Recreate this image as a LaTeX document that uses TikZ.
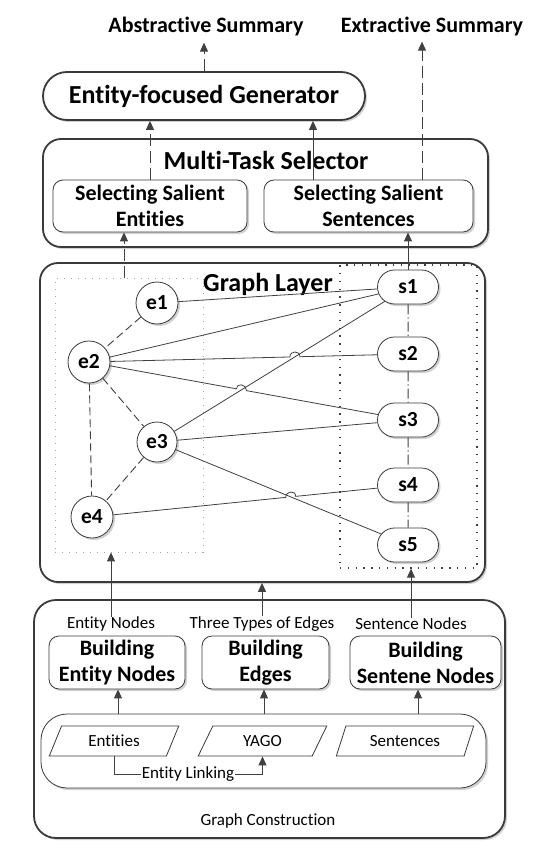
\documentclass[tikz,border=0pt]{standalone}
\usepackage{fontspec}
\setmainfont{Carlito}[Ligatures={NoCommon}]
\usetikzlibrary{arrows.meta,shapes.geometric,shapes.misc,calc,intersections,shadows}
\definecolor{lc}{HTML}{3A3A3A}
\definecolor{ec}{HTML}{404040}
\tikzset{
  shd/.style={drop shadow={shadow xshift=2pt,shadow yshift=-2pt,opacity=0.18,fill=black}},
  bigbox/.style={draw=lc, line width=1.8pt, rounded corners=18pt, fill=white, shd},
  inbox/.style={draw=lc, line width=0.8pt, rounded corners=10pt, fill=white, shd, align=center,
     font=\fontsize{22}{26}\selectfont\bfseries, inner sep=0pt},
  ttl/.style={font=\fontsize{26}{30}\selectfont\bfseries, inner sep=0pt},
  toptxt/.style={font=\fontsize{22}{26}\selectfont\bfseries, inner sep=0pt},
  lab/.style={font=\fontsize{17}{20}\selectfont, inner sep=0pt},
  ent/.style={circle, draw=lc, line width=0.8pt, fill=white, shd, minimum size=42pt, inner sep=0pt,
     font=\fontsize{21.5}{25}\selectfont\bfseries},
  sen/.style={rounded rectangle, draw=lc, line width=0.8pt, fill=white, shd, minimum width=61pt,
     minimum height=34pt, inner sep=0pt, font=\fontsize{21.5}{25}\selectfont\bfseries},
  para/.style={trapezium, trapezium left angle=63, trapezium right angle=117, trapezium stretches=true,
     draw=lc, line width=0.8pt, minimum height=30pt, inner sep=0pt, font=\fontsize{17}{20}\selectfont},
  arr/.style={draw=ec, line width=0.9pt, -{Triangle[length=9pt,width=8pt]}},
  ldash/.style={dash pattern=on 12pt off 5pt},
  edg/.style={draw=ec, line width=0.8pt},
  edash/.style={draw=ec, line width=0.9pt, dash pattern=on 8pt off 4pt},
  sdash/.style={draw=ec, line width=1pt, dash pattern=on 10pt off 3pt on 1.2pt off 3pt},
}
\begin{document}
\begin{tikzpicture}[x=1pt,y=-1pt]
\useasboundingbox (0,0) rectangle (544,850);

% ---------- top outputs ----------
\node[toptxt] (abs) at (206,27) {Abstractive Summary};
\node[toptxt] (ext) at (432,27) {Extractive Summary};

% ---------- generator ----------
\node[bigbox, rounded corners=24pt, minimum width=322pt, minimum height=48pt,
      font=\fontsize{26}{30}\selectfont\bfseries] (gen) at (204,96) {Entity-focused Generator};

% ---------- multi-task selector ----------
\node[bigbox, minimum width=445pt, minimum height=108pt] (mts) at (265.5,193) {};
\node[ttl] (mtst) at (266,160) {Multi-Task Selector};
\node[inbox, minimum width=194pt, minimum height=52pt] (sse) at (150,206) {Selecting Salient\\Entities};
\node[inbox, minimum width=209pt, minimum height=52pt] (sss) at (368.5,206) {Selecting Salient\\Sentences};

\coordinate (ssa) at (313,180);
\coordinate (ssb) at (422,180);
\draw[arr, ldash, shorten >=6pt] (gen.north) -- (gen.north |- abs.south);
\draw[arr, ldash] (sse.north) -- (sse.north |- gen.south);
\draw[arr] (ssa) -- (ssa |- gen.south);
\draw[arr, ldash, shorten >=5pt] (ssb) -- (ssb |- ext.south);

% ---------- graph layer ----------
\node[bigbox, minimum width=445pt, minimum height=319pt] (gl) at (262.5,422.5) {};
\node[ttl] (glt) at (268,284.5) {Graph Layer};
\node[draw=black!35, line width=0.8pt, dash pattern=on 1pt off 6pt, minimum width=148pt,
      minimum height=274pt, inner sep=0pt] (ldot) at (129,415) {};
\node[draw=black!75, line width=1.3pt, dash pattern=on 1.3pt off 6.5pt, minimum width=137pt,
      minimum height=303pt, inner sep=0pt] (rdot) at (408.5,416.5) {};

\node[ent] (e1) at (157,303) {e1};
\node[ent] (e2) at (89,362) {e2};
\node[ent, minimum size=40pt] (e3) at (157,442) {e3};
\node[ent] (e4) at (92,517) {e4};
\node[sen] (s1) at (408,287) {s1};
\node[sen] (s2) at (408,354) {s2};
\node[sen] (s3) at (408,420) {s3};
\node[sen] (s4) at (408,485) {s4};
\node[sen] (s5) at (408,545) {s5};

% dashed entity edges
\draw[edash] (e1) -- (e2);
\draw[edash] (e2) -- (e3);
\draw[edash] (e2) -- (e4);
\draw[edash] (e3) -- (e4);
% sentence chain
\draw[sdash] (s1) -- (s2);
\draw[sdash] (s2) -- (s3);
\draw[sdash] (s3) -- (s4);
\draw[sdash] (s4) -- (s5);
% solid edges
\draw[edg] (e1) -- (s1);
\draw[edg] (e2) -- (s1);
\draw[edg, name path=p31] (e3) -- (s1);
\draw[edg] (e3) -- (s3);
\draw[edg, name path=p35] (e3) -- (s5);
\path[name path=p22] (e2) -- (s2);
\path[name path=p23] (e2) -- (s3);
\path[name path=p44] (e4) -- (s4);
\path[name intersections={of=p31 and p22, by=xa}];
\path[name intersections={of=p31 and p23, by=xb}];
\path[name intersections={of=p35 and p44, by=xc}];
\draw[edg] (e2) -- ($(xa)!5pt!(e2)$) .. controls +(0,-6.5) and +(0,-6.5) .. ($(xa)!5pt!(s2)$) -- (s2);
\draw[edg] (e2) -- ($(xb)!5pt!(e2)$) .. controls +(0,-6.5) and +(0,-6.5) .. ($(xb)!5pt!(s3)$) -- (s3);
\draw[edg] (e4) -- ($(xc)!5pt!(e4)$) .. controls +(0,-6.5) and +(0,-6.5) .. ($(xc)!5pt!(s4)$) -- (s4);

\coordinate (gla) at (124,278);
\draw[arr, ldash] (gla) -- (gla |- sse.south);
\draw[arr] (s1.north) -- (s1.north |- sss.south);

% ---------- graph construction ----------
\node[bigbox, rounded corners=22pt, minimum width=471pt, minimum height=238pt] (gc) at (269.5,719) {};
\node[lab] (gct) at (268,821) {Graph Construction};
\node[lab] (enl) at (111,624) {Entity Nodes};
\node[lab] (tte) at (262,624) {Three Types of Edges};
\node[lab] (snl) at (411,624) {Sentence Nodes};
\node[inbox, minimum width=136pt, minimum height=53pt] (ben) at (117,662.5) {Building\\Entity Nodes};
\node[inbox, minimum width=127pt, minimum height=53pt] (bed) at (265.5,662.5) {Building\\Edges};
\node[inbox, minimum width=151pt, minimum height=53pt] (bsn) at (425.5,662.5) {Building\\Sentene Nodes};
\node[draw=lc, line width=0.8pt, rounded corners=26pt, fill=white, shd, minimum width=445pt,
      minimum height=74pt, inner sep=0pt] (inp) at (263.5,751) {};
\node[para, minimum width=130pt] (ents) at (114,741) {Entities};
\node[para, minimum width=129pt] (yago) at (262.5,741) {YAGO};
\node[para, minimum width=138pt] (sents) at (405,741) {Sentences};
\node[lab, fill=white, inner xsep=1pt] (elk) at (188,774) {Entity Linking};
\draw[edg] (ents.south) |- (elk.west);
\draw[arr] (elk.east) -| (yago.south);

\coordinate (ia) at (118,714);
\coordinate (ib) at (264,714);
\coordinate (ic) at (418,714);
\draw[arr] (ia) -- (ia |- ben.south);
\draw[arr] (ib) -- (ib |- bed.south);
\draw[arr] (ic) -- (ic |- bsn.south);

\draw[arr] (enl.north) -- (enl.north |- ldot.south);
\draw[arr] (tte.north) -- (tte.north |- gl.south);
\draw[arr] (snl.north) -- (snl.north |- rdot.south);
\end{tikzpicture}
\end{document}
